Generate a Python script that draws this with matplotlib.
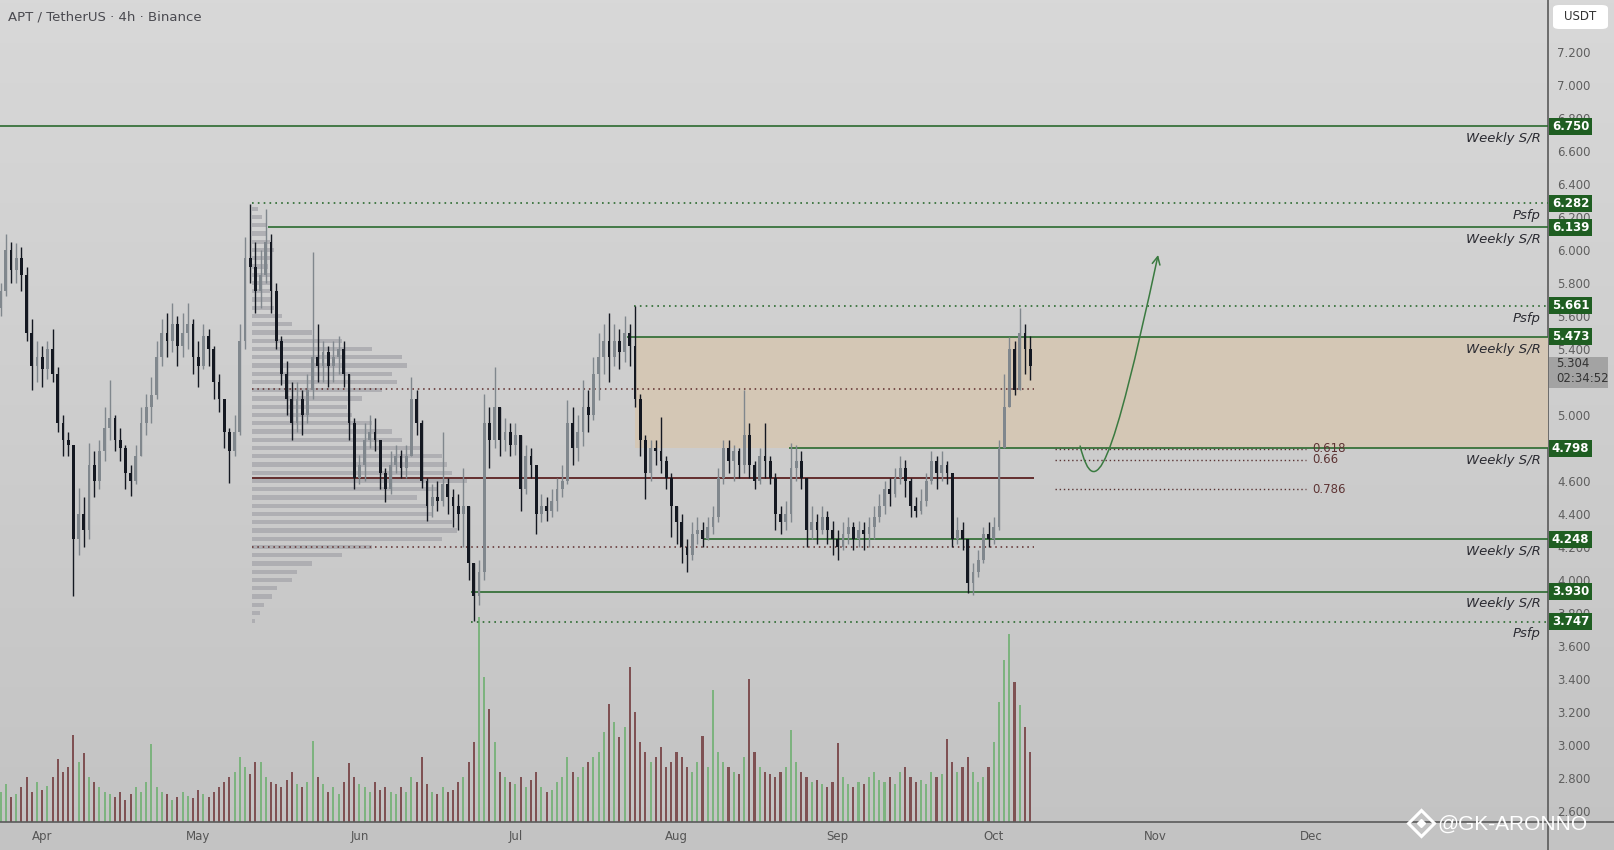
import numpy as np
import matplotlib
matplotlib.use('Agg')
import matplotlib.pyplot as plt
import matplotlib.transforms as mtransforms
from matplotlib.colors import LinearSegmentedColormap
from matplotlib.patches import Rectangle, FancyArrowPatch, FancyBboxPatch
from matplotlib.path import Path
from matplotlib.lines import Line2D

# ---- price data (daily candles, day 0 = Apr 1) ----
first_day = -8
first_open = 5.65
closes = [
    5.75, 6.00, 5.88, 5.95, 5.85, 5.50, 5.30, 5.35, 5.28, 5.40,
    5.25, 4.95, 4.85, 4.82, 4.25, 4.40, 4.30, 4.70, 4.60, 4.78,
    4.92, 4.98, 4.85, 4.80, 4.65, 4.60, 4.75, 4.95, 5.05, 5.12,
    5.35, 5.50, 5.45, 5.55, 5.42, 5.50, 5.55, 5.35, 5.30, 5.48,
    5.40, 5.20, 5.10, 4.90, 4.78, 4.90, 5.45, 5.95, 5.90, 5.75,
    5.85, 6.05, 5.75, 5.45, 5.25, 5.10, 4.95, 5.10, 5.00, 5.15,
    5.35, 5.30, 5.38, 5.30, 5.35, 5.40, 5.25, 4.95, 4.62, 4.70,
    4.85, 4.90, 4.85, 4.65, 4.55, 4.70, 4.75, 4.68, 4.75, 5.10,
    4.95, 4.60, 4.45, 4.50, 4.48, 4.58, 4.50, 4.45, 4.40, 4.45,
    4.10, 3.90, 4.05, 4.95, 4.85, 5.05, 4.85, 4.90, 4.82, 4.88,
    4.55, 4.75, 4.70, 4.40, 4.45, 4.42, 4.48, 4.55, 4.60, 4.95,
    4.80, 4.90, 5.05, 5.00, 5.25, 5.35, 5.45, 5.35, 5.45, 5.38,
    5.50, 5.42, 5.10, 4.85, 4.65, 4.80, 4.78, 4.72, 4.62, 4.45,
    4.35, 4.20, 4.15, 4.28, 4.30, 4.25, 4.32, 4.38, 4.62, 4.80,
    4.72, 4.78, 4.70, 4.88, 4.70, 4.60, 4.75, 4.72, 4.62, 4.40,
    4.35, 4.40, 4.68, 4.72, 4.62, 4.30, 4.35, 4.30, 4.38, 4.30,
    4.25, 4.20, 4.28, 4.32, 4.25, 4.30, 4.28, 4.32, 4.38, 4.45,
    4.55, 4.52, 4.62, 4.68, 4.60, 4.45, 4.42, 4.48, 4.60, 4.72,
    4.65, 4.70, 4.65, 4.25, 4.30, 4.25, 3.98, 4.05, 4.12, 4.28,
    4.25, 4.32, 4.80, 5.05, 5.40, 5.15, 5.50, 5.40, 5.30,
]
highs = [
    5.80, 6.10, 6.05, 6.04, 6.02, 5.90, 5.58, 5.45, 5.42, 5.45,
    5.52, 5.29, 5.00, 4.90, 4.82, 4.56, 4.50, 4.83, 4.78, 4.85,
    5.05, 5.21, 5.00, 4.92, 4.82, 4.70, 4.82, 5.05, 5.13, 5.23,
    5.45, 5.58, 5.62, 5.68, 5.60, 5.62, 5.68, 5.58, 5.45, 5.55,
    5.52, 5.42, 5.25, 5.10, 4.92, 5.00, 5.55, 6.08, 6.28, 6.05,
    6.00, 6.25, 6.10, 5.80, 5.48, 5.33, 5.20, 5.20, 5.15, 5.25,
    5.99, 5.55, 5.45, 5.42, 5.45, 5.48, 5.45, 5.20, 4.98, 4.76,
    4.95, 5.00, 4.98, 4.85, 4.68, 4.78, 4.82, 4.79, 4.82, 5.23,
    5.15, 4.97, 4.62, 4.58, 4.60, 4.90, 4.62, 4.55, 4.52, 4.68,
    4.45, 4.10, 4.12, 5.13, 5.05, 5.29, 5.05, 4.98, 4.95, 4.95,
    4.85, 4.82, 4.80, 4.70, 4.52, 4.50, 4.55, 4.62, 4.70, 5.09,
    5.05, 5.00, 5.21, 5.15, 5.35, 5.50, 5.55, 5.62, 5.55, 5.52,
    5.60, 5.55, 5.66, 5.13, 4.88, 4.85, 4.85, 4.99, 4.75, 4.65,
    4.45, 4.40, 4.25, 4.35, 4.38, 4.35, 4.38, 4.45, 4.68, 4.85,
    4.85, 4.82, 4.80, 5.15, 4.95, 4.72, 4.80, 4.95, 4.75, 4.65,
    4.45, 4.48, 4.83, 4.82, 4.78, 4.62, 4.45, 4.40, 4.45, 4.42,
    4.36, 4.30, 4.35, 4.38, 4.35, 4.36, 4.35, 4.38, 4.45, 4.52,
    4.60, 4.62, 4.68, 4.75, 4.73, 4.62, 4.50, 4.55, 4.65, 4.78,
    4.75, 4.78, 4.72, 4.65, 4.38, 4.35, 4.25, 4.10, 4.18, 4.32,
    4.35, 4.38, 4.85, 5.25, 5.47, 5.45, 5.65, 5.55, 5.48,
]
lows = [
    5.60, 5.72, 5.80, 5.80, 5.75, 5.45, 5.15, 5.20, 5.17, 5.22,
    5.20, 4.90, 4.75, 4.75, 3.90, 4.15, 4.20, 4.25, 4.50, 4.55,
    4.72, 4.85, 4.78, 4.72, 4.55, 4.51, 4.58, 4.75, 4.88, 4.95,
    5.10, 5.30, 5.35, 5.38, 5.30, 5.35, 5.40, 5.25, 5.17, 5.28,
    5.30, 5.10, 5.02, 4.80, 4.59, 4.75, 4.88, 5.40, 5.80, 5.62,
    5.65, 5.80, 5.62, 5.40, 5.18, 5.00, 4.85, 4.90, 4.88, 4.95,
    5.10, 5.20, 5.20, 5.17, 5.20, 5.25, 5.17, 4.85, 4.55, 4.58,
    4.60, 4.80, 4.78, 4.55, 4.47, 4.52, 4.65, 4.62, 4.62, 4.75,
    4.88, 4.56, 4.36, 4.38, 4.42, 4.45, 4.40, 4.32, 4.30, 4.20,
    4.00, 3.75, 3.85, 4.00, 4.68, 4.80, 4.75, 4.78, 4.75, 4.76,
    4.42, 4.52, 4.62, 4.28, 4.35, 4.36, 4.38, 4.42, 4.50, 4.58,
    4.70, 4.72, 4.81, 4.90, 4.97, 5.09, 5.25, 5.20, 5.30, 5.28,
    5.32, 5.30, 5.05, 4.75, 4.49, 4.60, 4.70, 4.65, 4.55, 4.26,
    4.22, 4.10, 4.05, 4.12, 4.22, 4.20, 4.24, 4.28, 4.35, 4.58,
    4.65, 4.60, 4.62, 4.65, 4.62, 4.55, 4.58, 4.62, 4.58, 4.30,
    4.28, 4.30, 4.35, 4.60, 4.55, 4.20, 4.25, 4.22, 4.28, 4.22,
    4.15, 4.12, 4.18, 4.22, 4.18, 4.20, 4.18, 4.20, 4.25, 4.35,
    4.40, 4.45, 4.50, 4.58, 4.50, 4.38, 4.38, 4.40, 4.45, 4.58,
    4.55, 4.60, 4.58, 4.20, 4.22, 4.18, 3.92, 3.91, 4.02, 4.10,
    4.20, 4.22, 4.30, 4.85, 5.05, 5.12, 5.15, 5.25, 5.21,
]
volume = [
    30, 38, 25, 28, 35, 45, 30, 40, 32, 36,
    45, 63, 50, 55, 87, 60, 69, 45, 40, 35,
    30, 28, 25, 30, 22, 28, 35, 30, 40, 78,
    35, 30, 28, 22, 25, 30, 26, 24, 32, 28,
    25, 30, 35, 40, 45, 50, 65, 55, 48, 60,
    60, 45, 40, 38, 35, 42, 50, 38, 35, 40,
    81, 45, 38, 30, 35, 28, 40, 59, 45, 38,
    35, 30, 40, 32, 35, 30, 28, 35, 30, 45,
    40, 65, 38, 30, 28, 35, 30, 32, 40, 45,
    60, 80, 205, 145, 113, 80, 50, 45, 40, 38,
    45, 35, 42, 50, 35, 30, 32, 40, 45, 65,
    50, 45, 55, 60, 65, 70, 90, 118, 100, 85,
    95, 155, 110, 80, 70, 60, 65, 75, 55, 60,
    70, 65, 55, 50, 60, 86, 55, 132, 70, 60,
    55, 50, 48, 65, 143, 70, 55, 50, 48, 45,
    50, 55, 92, 60, 50, 45, 40, 42, 38, 35,
    40, 79, 45, 38, 35, 40, 38, 45, 50, 42,
    40, 45, 38, 50, 55, 45, 40, 42, 38, 50,
    45, 48, 83, 60, 50, 55, 65, 50, 40, 45,
    55, 80, 120, 162, 188, 140, 117, 95, 70,
]

# volume profile (fixed range, starts at the May high)
profile_start_day = 40.3
profile_low, profile_step = 3.75, 0.05
profile_vol = [
    3, 8, 12, 20, 25, 40, 45, 60, 90, 120,
    190, 205, 200, 180, 175, 165, 185, 215, 200, 195,
    190, 170, 150, 140, 120, 100, 95, 110, 130, 145,
    140, 155, 150, 120, 90, 60, 40, 30, 22, 20,
    18, 20, 18, 16, 20, 22, 18, 15, 14, 10, 6,
]
poc_price = 4.62
va_high, va_low = 5.157, 4.20
profile_end_day = 190.8

# drawn levels
levels = [6.750, 6.282, 6.139, 5.661, 5.473, 4.798, 4.248, 3.930, 3.747]
level_names = ['Weekly S/R', 'Psfp', 'Weekly S/R', 'Psfp', 'Weekly S/R',
               'Weekly S/R', 'Weekly S/R', 'Weekly S/R', 'Psfp']
level_start = [-9, 40.3, 43.4, 113.8, 112.5, 143.6, 127.1, 82.5, 82.5]
zone_low, zone_high, zone_start = 4.798, 5.473, 114.0

fib_levels = [4.795, 4.730, 4.550]
fib_names = ['0.618', '0.66', '0.786']
fib_start, fib_end = 194.8, 243.0

last_price = 5.304
countdown = '02:34:52'

month_days = [0, 30, 61, 91, 122, 153, 183, 214, 244]
month_names = ['Apr', 'May', 'Jun', 'Jul', 'Aug', 'Sep', 'Oct', 'Nov', 'Dec']

# ---- figure ----
W, H = 1614, 850
fig = plt.figure(figsize=(W / 100, H / 100), dpi=100)

bg = fig.add_axes([0, 0, 1, 1], zorder=-10)
grad = np.linspace(0, 1, 256).reshape(-1, 1)
bg.imshow(grad, aspect='auto', extent=[0, 1, 0, 1], origin='upper',
          cmap=LinearSegmentedColormap.from_list('bg', ['#d8d8d8', '#c3c3c3']))
bg.axis('off')

rect = [0, 28 / H, 1548 / W, 822 / H]
xlim = (-8.115, 289.58)
ylim = (2.5333, 7.5152)

axv = fig.add_axes(rect, zorder=1)
axv.patch.set_alpha(0)
axv.axis('off')
ax = fig.add_axes(rect, zorder=2)
ax.patch.set_alpha(0)

days = np.arange(first_day, first_day + len(closes))
c = np.array(closes)
o = np.r_[first_open, c[:-1]]
hi = np.maximum(np.array(highs), np.maximum(o, c))
lo = np.minimum(np.array(lows), np.minimum(o, c))
up = c >= o

# volume
axv.bar(days, volume, width=0.42, color=np.where(up, '#7db37f', '#7f5153'), linewidth=0)
axv.set_xlim(*xlim)
axv.set_ylim(0, max(volume) * 4.0)

# zone
ax.add_patch(Rectangle((zone_start, zone_low), xlim[1] - zone_start, zone_high - zone_low,
                       facecolor='#d4c7b5', edgecolor='none', zorder=1))

# volume profile
prof_prices = profile_low + profile_step * np.arange(len(profile_vol))
prof_len = np.array(profile_vol) / max(profile_vol) * (215 / 5.2)
ax.barh(prof_prices, prof_len, left=profile_start_day, height=0.026,
        color='#a8a8ad', alpha=0.8, linewidth=0, zorder=2)
ax.hlines(poc_price, profile_start_day, profile_end_day, color='#5c2222', lw=1.3, zorder=3)
ax.hlines([va_high, va_low], profile_start_day, profile_end_day, color='#5c2a2a',
          lw=1.1, linestyles=(0, (1, 2.5)), zorder=3)

# candles
col = np.where(up, '#80878d', '#141821')
ax.vlines(days, lo, hi, colors=col, lw=1, zorder=5)
body = np.maximum(np.abs(c - o), 0.008)
ax.bar(days, body, bottom=np.minimum(o, c), width=0.55, color=col, linewidth=0, zorder=6)

# levels and labels
lab_tf = mtransforms.blended_transform_factory(ax.transAxes, ax.transData)
green = '#2b6a2f'
for p, name, x0 in zip(levels, level_names, level_start):
    ls = (0, (1, 2.5)) if name == 'Psfp' else '-'
    ax.hlines(p, x0, xlim[1], color=green, lw=1.2, linestyles=ls, zorder=4)
    ax.text(1541 / 1548, p - 0.074, name, transform=lab_tf, ha='right', va='center',
            fontsize=9.5, style='italic', color='#2b2b32', zorder=8)
    ax.add_patch(Rectangle((1549 / 1548, p - 8.5 / 165), 43 / 1548, 17 / 165,
                           transform=lab_tf, clip_on=False, facecolor='#1f5e22',
                           edgecolor='none', zorder=10))
    ax.text(1570.5 / 1548, p, f'{p:.3f}', transform=lab_tf, ha='center', va='center',
            fontsize=8.5, fontweight='bold', color='white', clip_on=False, zorder=11)

# fib
ax.hlines(fib_levels, fib_start, fib_end, color='#5a3434', lw=1,
          linestyles=(0, (1, 2)), zorder=4)
for p, name in zip(fib_levels, fib_names):
    ax.text(fib_end + 1.3, p, name, ha='left', va='center', fontsize=8.5,
            color='#5e3434', zorder=8)

# projected path arrow
verts = [(199.6, 4.812), (202.5, 4.455), (205.7, 4.667), (214.6, 5.970)]
arrow = FancyArrowPatch(path=Path(verts, [Path.MOVETO, Path.CURVE4, Path.CURVE4, Path.CURVE4]),
                        arrowstyle='->', mutation_scale=14, color='#3a7a40', lw=1.1,
                        shrinkA=0, shrinkB=0, zorder=7)
ax.add_patch(arrow)

# last price tag
ax.add_patch(Rectangle((1549 / 1548, 5.164), 59 / 1548, 0.188, transform=lab_tf,
                       clip_on=False, facecolor='#a3a3a3', edgecolor='none', zorder=10))
ax.text(1556 / 1548, 5.310, f'{last_price:.3f}', transform=lab_tf, ha='left', va='center',
        fontsize=8.5, color='#333333', clip_on=False, zorder=11)
ax.text(1556 / 1548, 5.222, countdown, transform=lab_tf, ha='left', va='center',
        fontsize=8.5, color='#333333', clip_on=False, zorder=11)

# axes styling
ax.set_xlim(*xlim)
ax.set_ylim(*ylim)
for s in ax.spines.values():
    s.set_visible(False)
ax.yaxis.tick_right()
yt = np.round(np.arange(2.6, 7.21, 0.2), 1)
ax.set_yticks(yt)
ax.set_yticklabels([f'{v:.3f}' for v in yt])
ax.tick_params(axis='y', length=0, pad=6.5, labelsize=8.5, labelcolor='#5e5e5e')
ax.set_xticks(month_days)
ax.set_xticklabels(month_names)
ax.tick_params(axis='x', length=0, pad=6, labelsize=8.5, labelcolor='#555555')

fig.add_artist(Line2D([0, 1], [28 / H, 28 / H], transform=fig.transFigure,
                      color='#5a5a5a', lw=1.2))
fig.add_artist(Line2D([1548 / W, 1548 / W], [0, 1], transform=fig.transFigure,
                      color='#5a5a5a', lw=1.2))

# header / currency box
fig.text(8 / W, 1 - 17 / H, 'APT / TetherUS · 4h · Binance', ha='left', va='center',
         fontsize=9.5, fontweight='medium', color='#4a4a50')
fig.add_artist(FancyBboxPatch((1553 / W, 1 - 29 / H), 55 / W, 24 / H,
                              boxstyle='round,pad=0,rounding_size=0.004',
                              transform=fig.transFigure, facecolor='white', edgecolor='none'))
fig.text(1580 / W, 1 - 17 / H, 'USDT', ha='center', va='center', fontsize=8.5, color='#333333')

# watermark
fig.add_artist(Line2D([1421 / W], [1 - 823 / H], marker='D', ms=13, mfc='none', mec='white',
                      mew=2.2, transform=fig.transFigure))
fig.add_artist(Line2D([1421 / W], [1 - 823 / H], marker='D', ms=4.5, mfc='white', mec='white',
                      transform=fig.transFigure))
fig.text(1437 / W, 1 - 824 / H, '@GK-ARONNO', ha='left', va='center', fontsize=15,
         color='white', family='Liberation Sans')

fig.savefig('out.png', dpi=100)
